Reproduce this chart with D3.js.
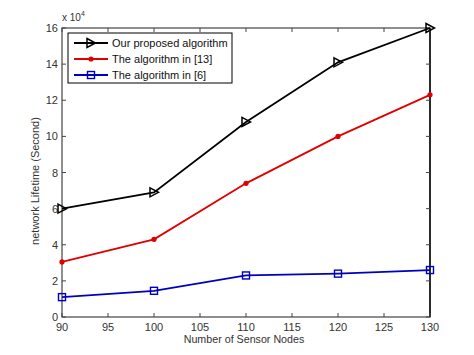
<!DOCTYPE html>
<html><head><meta charset="utf-8">
<script src="https://cdn.jsdelivr.net/npm/d3@7"></script>
<style>body{margin:0;background:#fff}text{font-family:"Liberation Sans",Arial,sans-serif}</style>
</head><body><svg id="c" width="474" height="355"></svg>
<script>
const nodes = [90, 100, 110, 120, 130];
const ours = [6.0, 6.9, 10.8, 14.1, 16.0];
const alg13 = [3.05, 4.3, 7.4, 10.0, 12.3];
const alg6 = [1.1, 1.45, 2.3, 2.4, 2.6];
const xTicks = [90, 95, 100, 105, 110, 115, 120, 125, 130];
const yTicks = [0, 2, 4, 6, 8, 10, 12, 14, 16];
const seriesNames = ["Our proposed algorithm", "The algorithm in [13]", "The algorithm in [6]"];

const svg = d3.select("#c");
const L = 62, R = 430, T = 28, B = 317;
const x = d3.scaleLinear().domain([90, 130]).range([L, R]);
const y = d3.scaleLinear().domain([0, 16]).range([B, T]);
const axisCol = "#444", txtCol = "#333";

svg.append("rect").attr("x", L).attr("y", T).attr("width", R - L).attr("height", B - T)
  .attr("fill", "none").attr("stroke", axisCol).attr("stroke-width", 1.2);
svg.append("line").attr("x1", R).attr("x2", R).attr("y1", T).attr("y2", B).attr("stroke", "#000").attr("stroke-width", 1.4);

const tk = 4;
const g = svg.append("g");
xTicks.forEach(v => {
  g.append("line").attr("x1", x(v)).attr("x2", x(v)).attr("y1", B).attr("y2", B - tk).attr("stroke", axisCol);
  g.append("line").attr("x1", x(v)).attr("x2", x(v)).attr("y1", T).attr("y2", T + tk).attr("stroke", axisCol);
  g.append("text").attr("x", x(v)).attr("y", 331).attr("text-anchor", "middle")
    .attr("font-size", 11).attr("fill", txtCol).text(v);
});
yTicks.forEach(v => {
  g.append("line").attr("x1", L).attr("x2", L + tk).attr("y1", y(v)).attr("y2", y(v)).attr("stroke", axisCol);
  g.append("line").attr("x1", R).attr("x2", R - tk).attr("y1", y(v)).attr("y2", y(v)).attr("stroke", axisCol);
  g.append("text").attr("x", 58).attr("y", y(v) + 4).attr("text-anchor", "end")
    .attr("font-size", 11).attr("fill", txtCol).text(v);
});
const ex = svg.append("text").attr("x", 62).attr("y", 21).attr("font-size", 10).attr("fill", txtCol);
ex.append("tspan").text("x 10");
ex.append("tspan").attr("dy", -5).attr("font-size", 7).text("4");

svg.append("text").attr("x", 244).attr("y", 343).attr("text-anchor", "middle")
  .attr("font-size", 10.7).attr("fill", txtCol).text("Number of Sensor Nodes");
svg.append("text").attr("transform", "translate(39,181) rotate(-90)").attr("text-anchor", "middle")
  .attr("font-size", 11).attr("fill", txtCol).text("network Lifetime (Second)");

const line = d3.line().x((d, i) => x(nodes[i])).y(d => y(d));
const series = [
  {vals: ours, col: "#000", marker: "tri"},
  {vals: alg13, col: "#e00000", marker: "dot"},
  {vals: alg6, col: "#0000c0", marker: "sq"}
];
function marker(sel, m, col, cx, cy) {
  if (m === "tri") {
    sel.append("path").attr("d", `M${cx - 4},${cy - 4.5}L${cx + 4.5},${cy}L${cx - 4},${cy + 4.5}Z`)
      .attr("fill", "none").attr("stroke", col).attr("stroke-width", 1.5);
  } else if (m === "dot") {
    sel.append("circle").attr("cx", cx).attr("cy", cy).attr("r", 2.6).attr("fill", col);
  } else {
    sel.append("rect").attr("x", cx - 3.5).attr("y", cy - 3.5).attr("width", 7).attr("height", 7)
      .attr("fill", "none").attr("stroke", col).attr("stroke-width", 1.4);
  }
}
series.forEach(s => {
  svg.append("path").attr("d", line(s.vals)).attr("fill", "none").attr("stroke", s.col).attr("stroke-width", 1.8);
  s.vals.forEach((v, i) => marker(svg, s.marker, s.col, x(nodes[i]), y(v)));
});

const lg = svg.append("g");
lg.append("rect").attr("x", 68).attr("y", 33).attr("width", 164).attr("height", 50)
  .attr("fill", "#fff").attr("stroke", "#000").attr("stroke-width", 1);
series.forEach((s, i) => {
  const ly = 43 + i * 16;
  lg.append("line").attr("x1", 74).attr("x2", 108).attr("y1", ly).attr("y2", ly).attr("stroke", s.col).attr("stroke-width", 1.8);
  marker(lg, s.marker, s.col, 91, ly);
  lg.append("text").attr("x", 112).attr("y", ly + 4).attr("font-size", 11).attr("fill", "#111").text(seriesNames[i]);
});
</script></body></html>
